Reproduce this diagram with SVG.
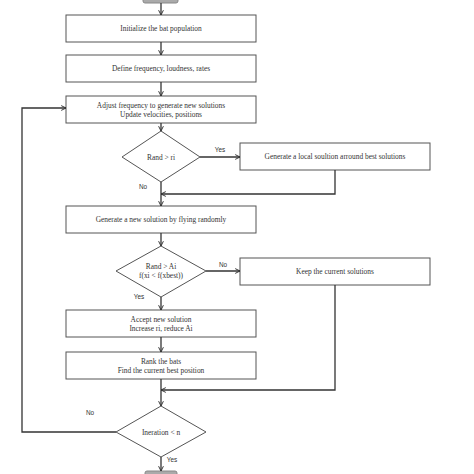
<svg xmlns="http://www.w3.org/2000/svg" width="474" height="474" viewBox="0 0 474 474">
<defs>
<marker id="ah" viewBox="0 0 10 10" refX="9" refY="5" markerWidth="6" markerHeight="6" orient="auto" markerUnits="userSpaceOnUse">
<path d="M1,1 L9,5 L1,9" fill="none" stroke="#333" stroke-width="1.6"/>
</marker>
<style>
.box{fill:#fff;stroke:#555;stroke-width:1}
.term{fill:#aaa;stroke:#888;stroke-width:1}
.t{font-family:"Liberation Serif",serif;font-size:7.4px;fill:#333;text-anchor:middle}
.l{font-family:"Liberation Sans",sans-serif;font-size:6.4px;fill:#333;text-anchor:middle}
.c{fill:none;stroke:#333;stroke-width:1.3}
</style>
</defs>
<rect width="474" height="474" fill="#fff"/>
<g id="start"><rect class="term" x="143" y="-4" width="35" height="7" rx="2"/></g>
<g id="n1"><rect class="box" x="66" y="15" width="190" height="27"/><text class="t" x="161" y="30.5">Initialize the bat population</text></g>
<g id="n2"><rect class="box" x="66" y="55" width="190" height="27"/><text class="t" x="161" y="70.5">Define frequency, loudness, rates</text></g>
<g id="n3"><rect class="box" x="66" y="96" width="190" height="27"/><text class="t" x="161" y="107.5">Adjust frequency to generate new solutions</text><text class="t" x="161" y="116.5">Update velocities, positions</text></g>
<g id="d1"><polygon class="box" points="161,131 200,157 161,182 122,157"/><text class="t" x="161" y="159.5">Rand &gt; ri</text></g>
<g id="n4"><rect class="box" x="240" y="143" width="190" height="27"/><text class="t" x="335" y="158.5">Generate a local soultion arround best solutions</text></g>
<g id="n5"><rect class="box" x="66" y="206" width="190" height="27"/><text class="t" x="161" y="221.5">Generate a new solution by flying randomly</text></g>
<g id="d2"><polygon class="box" points="161,246 206,271 161,297 116,271"/><text class="t" x="161" y="268.5">Rand &gt; Ai</text><text class="t" x="161" y="278">f(xi &lt; f(xbest))</text></g>
<g id="n6"><rect class="box" x="240" y="258" width="190" height="27"/><text class="t" x="335" y="273.5">Keep the current solutions</text></g>
<g id="n7"><rect class="box" x="66" y="310" width="190" height="27"/><text class="t" x="161" y="322">Accept new solution</text><text class="t" x="161" y="331">Increase ri, reduce Ai</text></g>
<g id="n8"><rect class="box" x="66" y="352" width="190" height="27"/><text class="t" x="161" y="363.5">Rank the bats</text><text class="t" x="161" y="372.5">Find the current best position</text></g>
<g id="d3"><polygon class="box" points="161,406 206,432 161,457 116,432"/><text class="t" x="161" y="434.5">Ineration &lt; n</text></g>
<g id="end"><rect class="term" x="145" y="471" width="32" height="8" rx="2"/></g>
<g id="connectors">
<path class="c" d="M161,3 V15" marker-end="url(#ah)"/>
<path class="c" d="M161,42 V55" marker-end="url(#ah)"/>
<path class="c" d="M161,82 V96" marker-end="url(#ah)"/>
<path class="c" d="M161,123 V131" marker-end="url(#ah)"/>
<path class="c" d="M200,157 H240" marker-end="url(#ah)"/>
<path class="c" d="M335,170 V194 H161" marker-end="url(#ah)"/>
<path class="c" d="M161,182 V206" marker-end="url(#ah)"/>
<path class="c" d="M161,233 V246" marker-end="url(#ah)"/>
<path class="c" d="M206,271 H240" marker-end="url(#ah)"/>
<path class="c" d="M161,297 V310" marker-end="url(#ah)"/>
<path class="c" d="M161,337 V352" marker-end="url(#ah)"/>
<path class="c" d="M335,285 V390 H161" marker-end="url(#ah)"/>
<path class="c" d="M161,379 V406" marker-end="url(#ah)"/>
<path class="c" d="M116,432 H22 V108 H66" marker-end="url(#ah)"/>
<path class="c" d="M161,457 V471" marker-end="url(#ah)"/>
<text class="l" x="220" y="152">Yes</text>
<text class="l" x="143" y="189">No</text>
<text class="l" x="223" y="267">No</text>
<text class="l" x="139" y="299">Yes</text>
<text class="l" x="90" y="415">No</text>
<text class="l" x="172" y="462">Yes</text>
</g>
</svg>
